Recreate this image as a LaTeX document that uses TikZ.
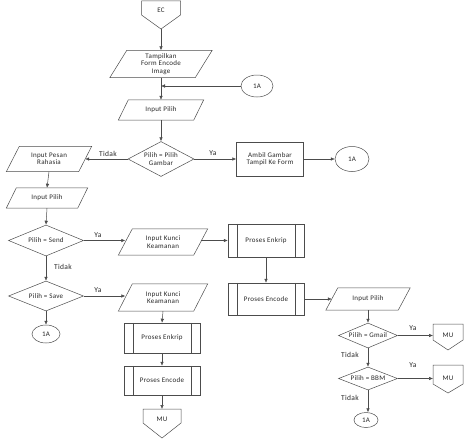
\documentclass[tikz,border=0pt]{standalone}
\usepackage{fontspec}
\setmainfont{Carlito}[LetterSpace=4]
\usetikzlibrary{arrows.meta,shapes.geometric}
\newcommand\offpg[7]{% name, cx, top, rectbottom, tip, halfwidth, text
  \draw[line] ({#2-#6},#3) -- ({#2+#6},#3) -- ({#2+#6},#4) -- (#2,#5) -- ({#2-#6},#4) -- cycle;
  \node[txt] (#1) at (#2,{#3+0.7*(#4-#3)}) {#7};
  \coordinate (#1-top) at (#2,#3);
  \coordinate (#1-tip) at (#2,#5);
  \coordinate (#1-left) at ({#2-#6},{(#3+#4)/2});
}
\begin{document}
\begin{tikzpicture}[x=1pt,y=-1pt,
  line/.style={draw=black!70, line width=0.5pt},
  arr/.style={line, -{Latex[length=4pt,width=3.6pt]}},
  txt/.style={font=\fontsize{7}{7.4}\selectfont, align=center, text=black!85, inner sep=0pt},
  lbl/.style={font=\fontsize{7.5}{8}\selectfont, text=black!85, inner sep=0pt},
  proc/.style={txt, line, rectangle, minimum width=76, minimum height=32},
  dec/.style={txt, line, diamond, aspect=2},
  conn/.style={txt, line, ellipse}
]
\useasboundingbox (0,0) rectangle (474,440);

% top column
\offpg{ec}{161}{0.8}{15}{29}{19.5}{EC}
\node[txt, minimum width=85, minimum height=27] (tamp) at (161,64) {Tampilkan\\Form Encode\\Image};
\node[conn, minimum width=32, minimum height=22] (c1a1) at (257,86) {1A};
\node[txt, minimum width=75, minimum height=20] (ip1) at (161,110) {Input Pilih};
\node[dec, minimum width=66, minimum height=35] (d1) at (161,159) {Pilih = Pilih\\Gambar};
\node[txt, minimum width=72, minimum height=25] (pesan) at (49,159) {Input Pesan\\Rahasia};
\node[txt, line, rectangle, minimum width=67, minimum height=34] (ambil) at (270,159) {Ambil Gambar\\Tampil Ke Form};
\node[conn, minimum width=34, minimum height=25] (c1a2) at (352,159) {1A};

% left column
\node[txt, minimum width=71, minimum height=20] (ip2) at (47,198) {Input Pilih};
\node[dec, minimum width=75, minimum height=31] (send) at (46,240.5) {Pilih = Send};
\node[dec, minimum width=75, minimum height=30] (save) at (46,296) {Pilih = Save};
\node[conn, minimum width=28, minimum height=18] (c1a3) at (46,334) {1A};

% middle column
\node[txt, minimum width=75, minimum height=26] (kunci1) at (163,242) {Input Kunci\\Keamanan};
\node[txt, minimum width=75, minimum height=27] (kunci2) at (163,297.5) {Input Kunci\\Keamanan};
\node[proc, minimum height=30] (enk2) at (162,338) {Proses Enkrip};
\node[proc, minimum height=29] (enc2) at (162,380.5) {Proses Encode};
\offpg{mu1}{162}{409}{423}{438}{19}{MU}

% right column
\node[proc, minimum height=33] (enk1) at (266,240.5) {Proses Enkrip};
\node[proc, minimum height=32] (enc1) at (266,299) {Proses Encode};
\node[txt, minimum width=72, minimum height=22] (ip3) at (368,299) {Input Pilih};
\node[dec, minimum width=59, minimum height=25] (gmail) at (368,335.5) {Pilih = Gmail};
\node[dec, minimum width=59, minimum height=23] (bbm) at (368,378.5) {Pilih = BBM};
\node[conn, minimum width=24, minimum height=15] (c1a4) at (366,420) {1A};
\offpg{mu2}{448}{324}{340}{350}{15}{MU}
\offpg{mu3}{448}{365}{384}{393}{15}{MU}

% parallelogram outlines
\foreach \n/\s in {tamp/17, ip1/10, pesan/13, ip2/10, kunci1/14, kunci2/14, ip3/12}
  \draw[line] ([xshift={-\s/2}]\n.south west) -- ([xshift={\s/2}]\n.north west)
    -- ([xshift={\s/2}]\n.north east) -- ([xshift={-\s/2}]\n.south east) -- cycle;

% predefined-process inner lines
\foreach \n in {enk1, enc1, enk2, enc2} {
  \draw[line] ([xshift=9.5]\n.north west) -- ([xshift=9.5]\n.south west);
  \draw[line] ([xshift=-9.5]\n.north east) -- ([xshift=-9.5]\n.south east);
}

% connectors
\draw[arr] (ec-tip) -- (tamp.north);
\draw[arr] (tamp.south) -- (ip1.north);
\draw[arr] (c1a1.west) -- (c1a1.west -| tamp.south);
\draw[arr] (ip1.south) -- (d1.north);
\draw[arr] (d1.west) -- (pesan.east);
\draw[arr] (d1.east) -- (ambil.west);
\draw[arr] (ambil.east) -- (c1a2.west);
\draw[arr] (pesan.south) -- (ip2.north);
\draw[arr] (ip2.south) -- (send.north);
\draw[arr] (send.east) -- (send.east -| kunci1.west);
\draw[arr] (kunci1.east |- enk1.west) -- (enk1.west);
\draw[arr] (enk1.south) -- (enc1.north);
\draw[arr] (enc1.east) -- (ip3.west);
\draw[arr] (ip3.south) -- (gmail.north);
\draw[arr] (gmail.east) -- (gmail.east -| mu2-left);
\draw[arr] (gmail.south) -- (bbm.north);
\draw[arr] (bbm.east) -- (bbm.east -| mu3-left);
\draw[arr] (bbm.south) -- (c1a4.north -| bbm.south);
\draw[arr] (send.south) -- (save.north);
\draw[arr] (save.east) -- (save.east -| kunci2.west);
\draw[arr] (save.south) -- (c1a3.north);
\draw[arr] (kunci2.south) -- (enk2.north);
\draw[arr] (enk2.south) -- (enc2.north);
\draw[arr] (enc2.south) -- (mu1-top);

% labels
\node[lbl] (lt1) at (108,154) {Tidak};
\node[lbl] (ly1) at (213,153.5) {Ya};
\node[lbl] (ly2) at (98,235.5) {Ya};
\node[lbl] (lt2) at (63,267) {Tidak};
\node[lbl] (ly3) at (98,290) {Ya};
\node[lbl] (ly4) at (413,328) {Ya};
\node[lbl] (lt3) at (350,355) {Tidak};
\node[lbl] (ly5) at (413,365) {Ya};
\node[lbl] (lt4) at (350,398) {Tidak};
\end{tikzpicture}
\end{document}
